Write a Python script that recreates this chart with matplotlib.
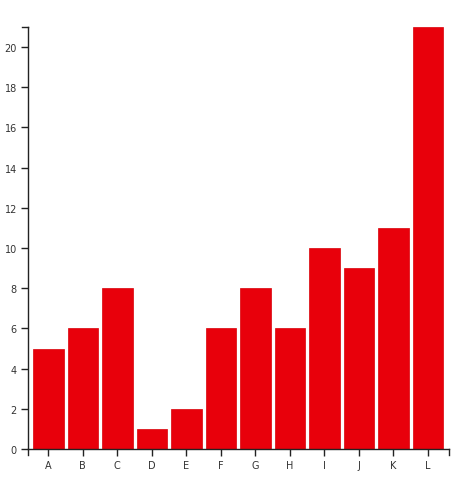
import matplotlib
matplotlib.use("Agg")
import matplotlib.pyplot as plt

# data
letters = ["A", "B", "C", "D", "E", "F", "G", "H", "I", "J", "K", "L"]
frequency = [5, 6, 8, 1, 2, 6, 8, 6, 10, 9, 11, 21]
y_ticks = list(range(0, 21, 2))

W, H = 474, 481
AX_W, AX_H = 421, 422
fig = plt.figure(figsize=(W / 100, H / 100), dpi=100)
ax = fig.add_axes([28 / W, (H - 450) / H, AX_W / W, AX_H / H])

# band layout in pixel units of the axes width
start, step, bw = 5.0, 34.5, 30.5
xs = [(start + i * step) / AX_W for i in range(len(letters))]
bw_f = bw / AX_W
ax.bar(xs, frequency, width=bw_f, align="edge", color="#e8000b",
       edgecolor="#d80008", linewidth=0.5)

ax.set_xlim(0, 1)
ax.set_ylim(0, max(frequency))
ax.set_xticks([x + bw_f / 2 for x in xs])
ax.set_xticklabels(letters)
ax.set_yticks(y_ticks)

for s in ["top", "right"]:
    ax.spines[s].set_visible(False)
for s in ["left", "bottom"]:
    ax.spines[s].set_color("#222222")
    ax.spines[s].set_linewidth(1.0)
ax.tick_params(length=5, width=1, color="#222222", labelsize=7, labelcolor="#333333", pad=3)

# outer ticks like d3 axes
tk = 6 / AX_W
ty = 6 / AX_H * max(frequency)
ax.plot([0, 0], [0, -ty], color="#222222", lw=1, clip_on=False)
ax.plot([1, 1], [0, -ty], color="#222222", lw=1, clip_on=False)
ax.plot([-tk, 0], [max(frequency), max(frequency)], color="#222222", lw=1, clip_on=False)

fig.savefig("out.png", dpi=100)
